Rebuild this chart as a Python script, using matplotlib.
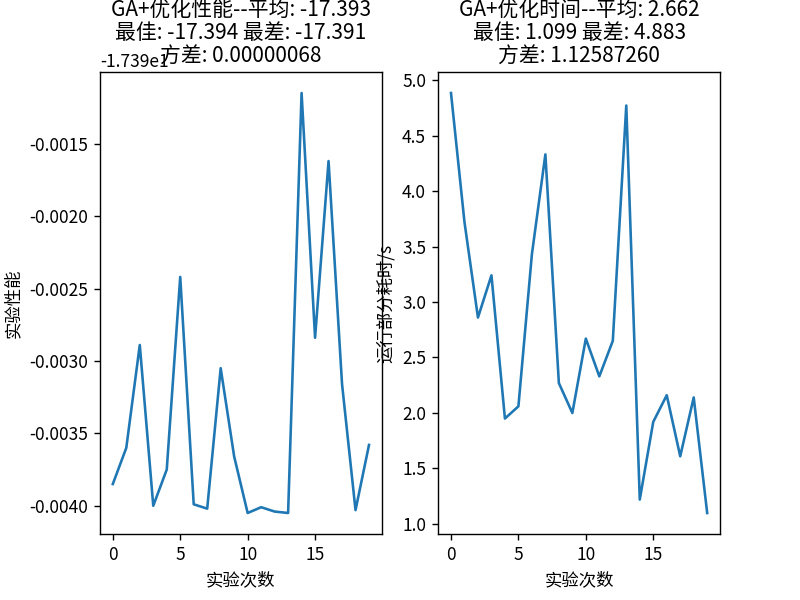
import matplotlib
matplotlib.use("Agg")
import matplotlib.pyplot as plt

plt.rcParams['font.family'] = ['Noto Sans CJK SC', 'DejaVu Sans']
plt.rcParams['axes.unicode_minus'] = False

# per-run performance (raw values) and run time in seconds
runs = list(range(20))
perf = [-17.39385, -17.3936, -17.39289, -17.3940, -17.39375,
        -17.39242, -17.39399, -17.39402, -17.39305, -17.39366,
        -17.39405, -17.39401, -17.39404, -17.39405, -17.39115,
        -17.39284, -17.39162, -17.39316, -17.39403, -17.39358]
times = [4.883, 3.72, 2.86, 3.24, 1.95, 2.06, 3.43, 4.33, 2.27, 2.00,
         2.67, 2.33, 2.65, 4.77, 1.22, 1.92, 2.16, 1.61, 2.14, 1.099]

perf_title = "GA+优化性能--平均: -17.393\n最佳: -17.394 最差: -17.391\n方差: 0.00000068"
time_title = "GA+优化时间--平均: 2.662\n最佳: 1.099 最差: 4.883\n方差: 1.12587260"

# default 6.4x4.8 figure, saved at 125 dpi -> 800x600
fig, (ax1, ax2) = plt.subplots(1, 2, figsize=(6.4, 4.8), dpi=125)

ax1.plot(runs, perf)
ax1.set_title(perf_title, y=1.0, linespacing=1.04)
ax1.set_xlabel("实验次数")
ax1.set_ylabel("实验性能")

ax2.plot(runs, times)
ax2.set_title(time_title, y=1.0, linespacing=1.04)
ax2.set_xlabel("实验次数")
ax2.set_ylabel("运行部分耗时/s")

plt.savefig("out.png", dpi=125)
